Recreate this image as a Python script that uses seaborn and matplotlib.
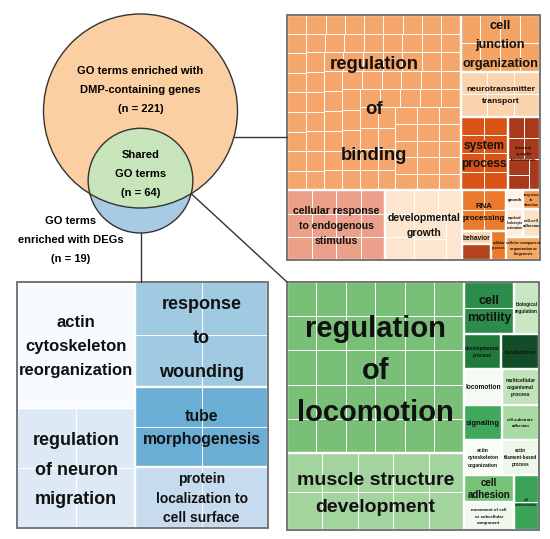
import numpy as np
import matplotlib
matplotlib.use("Agg")
import matplotlib.pyplot as plt
from matplotlib.patches import Circle, Rectangle
import seaborn as sns

# ---------------- data ----------------
venn_labels = ["GO terms enriched with\nDMP-containing genes\n(n = 221)",
               "Shared\nGO terms\n(n = 64)",
               "GO terms\nenriched with DEGs\n(n = 19)"]
venn_counts = [221, 64, 19]  # DMP only, shared, DEG only

orange_terms = ["regulation\nof\nbinding", "cell\njunction\norganization",
                "neurotransmitter\ntransport", "system\nprocess",
                "chemical\nsynaptic\ntransmission",
                "cellular response\nto endogenous\nstimulus",
                "developmental\ngrowth", "RNA\nprocessing", "behavior", "",
                "cellular\nprocess", "growth", "response\nto\nstimulus",
                "myeloid\nleukocyte\nactivation", "cell-cell\nadhesion",
                "cellular component\norganization or\nbiogenesis"]
orange_sizes = [304.5, 45.0, 35.6, 34.8, 23.7, 68.6, 53.2, 18.0, 3.9, 4.8,
                4.4, 3.2, 3.2, 4.6, 4.6, 7.8]
orange_children = [84, 8, 6, 8, 7, 12, 8, 4, 1, 1, 1, 1, 1, 1, 1, 1]
orange_colors = ["#F5A66C", "#F4A464", "#FBD3AC", "#DA5418", "#A8391A",
                 "#ECA08A", "#FDE6CF", "#EB7A2C", "#FBD4AC", "#B5441C",
                 "#EC7A28", "#FEF3E6", "#F29A50", "#FDEEDD", "#FCE3C8",
                 "#F7A75E"]

green_terms = ["regulation\nof\nlocomotion", "muscle structure\ndevelopment",
               "cell\nmotility", "biological\nregulation",
               "developmental\nprocess", "localization", "locomotion",
               "multicellular\norganismal\nprocess", "signaling",
               "cell-substrate\nadhesion", "actin\ncytoskeleton\norganization",
               "actin\nfilament-based\nprocess", "cell\nadhesion",
               "movement of cell\nor subcellular\ncomponent",
               "cell\ncommunication"]
green_sizes = [302.7, 136.3, 26.0, 13.0, 13.0, 13.3, 13.7, 13.3, 13.3, 13.0,
               13.3, 13.0, 13.5, 14.0, 13.8]
green_children = [30, 10, 2, 1, 1, 1, 1, 1, 1, 1, 1, 1, 1, 1, 2]
green_colors = ["#79BF78", "#A4D49E", "#2B8C4B", "#C9E7C2", "#1F7A3C",
                "#134D27", "#F5FBF3", "#C0E3B9", "#40A85C", "#AADAA3",
                "#F7FCF5", "#EDF7EA", "#78C277", "#F1F9EE", "#3BA358"]

blue_terms = ["actin\ncytoskeleton\nreorganization",
              "regulation\nof neuron\nmigration", "response\nto\nwounding",
              "tube\nmorphogenesis", "protein\nlocalization to\ncell surface"]
blue_sizes = [148.7, 141.6, 139.7, 106.4, 81.1]
blue_children = [1, 4, 4, 4, 2]
blue_colors = ["#F7FBFF", "#DDEAF6", "#9FCAE2", "#6AADD5", "#C7DBEF"]

# ---------------- styles / layout ----------------
orange_tree = ('v', [('h', [0, ('v', [1, 2, ('h', [3, 4])])]),
                     ('h', [5, 6, ('h', [('v', [7, ('h', [('v', [8, 9]), 10])]),
                                         ('v', [('h', [11, 12]), ('h', [13, 14]), 15])])])])
green_tree = ('h', [('v', [0, 1]),
                    ('v', [('h', [2, 3]), ('h', [4, 5]), ('h', [6, 7]),
                           ('h', [8, 9]), ('h', [10, 11]), ('h', [('v', [12, 13]), 14])])])
blue_tree = ('h', [('v', [0, 1]), ('v', [2, 3, 4])])

# (fontsize pt, line spacing factor, vertical nudge px)
orange_font = [(13.3, 2.45, 5), (9.2, 1.48, 0), (6.1, 1.41, 0), (8.6, 1.5, 0),
               (3.0, 1.4, 0), (7.6, 1.42, 0), (7.5, 1.44, 0), (5.7, 1.5, 1),
               (4.8, 1.4, 0), (3, 1.4, 0), (2.6, 1.4, 0), (3.2, 1.4, 0),
               (2.5, 1.4, 0), (2.5, 1.4, 0), (2.9, 1.4, 0), (2.7, 1.4, 0)]
green_font = [(21, 1.44, 1), (14, 1.43, 0), (9, 1.43, 0), (3.3, 1.4, 0),
              (3.5, 1.4, 0), (4.1, 1.4, 0), (4.7, 1.4, 0), (3.6, 1.45, 0),
              (5.6, 1.4, 0), (3.0, 1.45, 0), (3.6, 1.45, 0), (3.3, 1.45, 0),
              (7, 1.33, 0), (3.2, 1.45, 0), (2.2, 1.4, 0)]
blue_font = [(12, 1.46, 0), (13, 1.65, 0), (13, 1.9, 2), (11.4, 1.45, 0),
             (10, 1.42, 0)]

ORANGE_BOX = (287, 15, 253, 245)
GREEN_BOX = (287, 282, 252, 248)
BLUE_BOX = (17, 282, 251, 246)

sns.set_theme(style="white")
plt.rcParams['font.family'] = ['Liberation Sans', 'DejaVu Sans']


def node_weight(node, sizes):
    if isinstance(node, int):
        return sizes[node]
    return sum(node_weight(k, sizes) for k in node[1])


def slice_layout(node, rect, sizes, out):
    x, y, w, h = rect
    if isinstance(node, int):
        out[node] = rect
        return
    d, kids = node
    tot = sum(node_weight(k, sizes) for k in kids)
    pos = x if d == 'h' else y
    for k in kids:
        f = node_weight(k, sizes) / tot
        if d == 'h':
            slice_layout(k, (pos, y, w * f, h), sizes, out)
            pos += w * f
        else:
            slice_layout(k, (x, pos, w, h * f), sizes, out)
            pos += h * f


def worst(row, length):
    s = sum(row)
    return max(max(length ** 2 * r / s ** 2, s ** 2 / (length ** 2 * r)) for r in row)


def squarify(values, rect):
    x, y, w, h = rect
    tot = sum(values)
    areas = sorted([v * w * h / tot for v in values], reverse=True)
    rects = []
    while areas:
        length = min(w, h)
        row = [areas[0]]
        i = 1
        while i < len(areas) and worst(row + [areas[i]], length) <= worst(row, length):
            row.append(areas[i])
            i += 1
        areas = areas[i:]
        s = sum(row)
        if w >= h:
            cw = s / h
            cy = y
            for a in row:
                rh = a / cw
                rects.append((x, cy, cw, rh))
                cy += rh
            x += cw
            w -= cw
        else:
            rh = s / w
            cx = x
            for a in row:
                cw = a / rh
                rects.append((cx, y, cw, rh))
                cx += cw
            y += rh
            h -= rh
    return rects


def draw_label(ax, text, cx, cy, fs, sp, color="black"):
    lines = text.split("\n")
    fpx = fs * 100 / 72
    n = len(lines)
    for i, line in enumerate(lines):
        yc = cy + (i - (n - 1) / 2) * sp * fpx
        ax.text(cx, yc + 0.36 * fpx, line, ha="center", va="baseline",
                fontsize=fs, fontweight="bold", color=color, zorder=6)


def draw_treemap(ax, box, tree, terms, sizes, nchild, colors, fonts):
    rects = {}
    slice_layout(tree, box, sizes, rects)
    pal = sns.color_palette(colors)
    for i in range(len(terms)):
        x, y, w, h = rects[i]
        ax.add_patch(Rectangle((x, y), w, h, facecolor=pal[i], edgecolor="none"))
        if nchild[i] > 1:
            child_vals = [sizes[i] / nchild[i]] * nchild[i]
            for (cx, cy, cw, ch) in squarify(child_vals, rects[i]):
                ax.add_patch(Rectangle((cx, cy), cw, ch, facecolor="none",
                                       edgecolor="white", lw=0.7, alpha=0.85))
    for i in range(len(terms)):
        x, y, w, h = rects[i]
        ax.add_patch(Rectangle((x, y), w, h, facecolor="none",
                               edgecolor="white", lw=1.6))
    for i in range(len(terms)):
        x, y, w, h = rects[i]
        if terms[i]:
            fs, sp, dy = fonts[i]
            draw_label(ax, terms[i], x + w / 2, y + h / 2 + dy, fs, sp,
                       color="#111111")
    bx, by, bw, bh = box
    ax.add_patch(Rectangle((bx, by), bw, bh, facecolor="none",
                           edgecolor="#6b6b6b", lw=1.3))
    return rects


fig = plt.figure(figsize=(5.5, 5.39), dpi=100)
ax = fig.add_axes([0, 0, 1, 1])
ax.set_xlim(0, 550)
ax.set_ylim(539, 0)
ax.axis("off")

# ---------------- Venn ----------------
scale = 97.0 / np.sqrt(venn_counts[0] + venn_counts[1])
r1 = scale * np.sqrt(venn_counts[0] + venn_counts[1])
r2 = scale * np.sqrt(venn_counts[1] + venn_counts[2])
target = venn_counts[1] * scale ** 2 * np.pi  # overlap area


def lens(d):
    a1 = np.arccos((d * d + r1 * r1 - r2 * r2) / (2 * d * r1))
    a2 = np.arccos((d * d + r2 * r2 - r1 * r1) / (2 * d * r2))
    k = np.sqrt((-d + r1 + r2) * (d + r1 - r2) * (d - r1 + r2) * (d + r1 + r2))
    return r1 * r1 * a1 + r2 * r2 * a2 - 0.5 * k


lo, hi = r1 - r2 + 1e-6, r1 + r2 - 1e-6
for _ in range(80):
    mid = (lo + hi) / 2
    if lens(mid) > target:
        lo = mid
    else:
        hi = mid
dist = (lo + hi) / 2

c1 = (140.5, 111.0)
c2 = (140.5, 111.0 + dist)

big = Circle(c1, r1, facecolor="#FBCFA1", edgecolor="none", zorder=2)
ax.add_patch(big)
small = Circle(c2, r2, facecolor="#A7CBE2", edgecolor="none", zorder=2)
ax.add_patch(small)
shared = Circle(c2, r2, facecolor="#C8E4BA", edgecolor="none", zorder=3)
ax.add_patch(shared)
shared.set_clip_path(big)
ax.add_patch(Circle(c1, r1, facecolor="none", edgecolor="#333333", lw=1.0, zorder=4))
ax.add_patch(Circle(c2, r2, facecolor="none", edgecolor="#333333", lw=1.0, zorder=4))

vfs = 8.0
draw_label(ax, venn_labels[0], c1[0], c1[1] - 22, vfs, 1.7)
draw_label(ax, venn_labels[1], c2[0], c2[1] - 8, vfs, 1.7)
draw_label(ax, venn_labels[2], 71, 239, vfs, 1.7)

# ---------------- treemaps ----------------
draw_treemap(ax, ORANGE_BOX, orange_tree, orange_terms, orange_sizes,
             orange_children, orange_colors, orange_font)
draw_treemap(ax, GREEN_BOX, green_tree, green_terms, green_sizes,
             green_children, green_colors, green_font)
draw_treemap(ax, BLUE_BOX, blue_tree, blue_terms, blue_sizes,
             blue_children, blue_colors, blue_font)

# ---------------- connectors ----------------
ly = 137.0
lx = c1[0] + np.sqrt(r1 ** 2 - (ly - c1[1]) ** 2)
ax.plot([lx, ORANGE_BOX[0]], [ly, ly], color="#333333", lw=1.0, zorder=5)
ax.plot([c2[0], c2[0]], [c2[1] + r2, BLUE_BOX[1]], color="#333333", lw=1.0, zorder=5)
a = (dist ** 2 + r1 ** 2 - r2 ** 2) / (2 * dist)
hh = np.sqrt(r1 ** 2 - a ** 2)
ax.plot([c1[0] + hh, GREEN_BOX[0]], [c1[1] + a, GREEN_BOX[1]], color="#333333",
        lw=1.0, zorder=5)

fig.savefig("out.png", dpi=100)
